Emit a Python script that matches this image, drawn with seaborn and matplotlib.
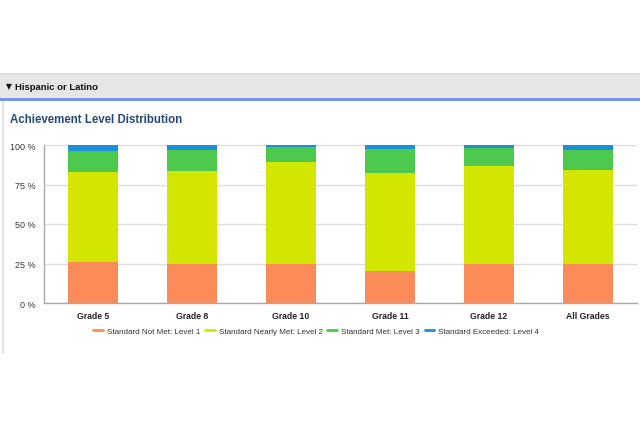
import numpy as np
import pandas as pd
import seaborn as sns
from matplotlib import pyplot as plt
from matplotlib.lines import Line2D
from matplotlib.patches import Rectangle

# Data (percent of students per achievement level)
grades = ["Grade 5", "Grade 8", "Grade 10", "Grade 11", "Grade 12", "All Grades"]
level1 = [26, 25, 25, 20, 25, 25]
level2 = [57, 58.5, 64, 62.5, 61.5, 59]
level3 = [13, 13.5, 10, 15, 11.5, 13]
level4 = [4, 3, 1, 2.5, 2, 3]
levels = ["Standard Not Met: Level 1", "Standard Nearly Met: Level 2",
          "Standard Met: Level 3", "Standard Exceeded: Level 4"]
colors = ["#fb8c5a", "#d3e600", "#4cc94c", "#1b8fd8"]

sns.set_theme(style="white")
plt.rcParams["font.family"] = ["Liberation Sans", "DejaVu Sans"]

fig = plt.figure(figsize=(6.4, 4.31), dpi=100)

# Page decoration: header bar, blue rule, left panel border
fig.add_artist(Rectangle((0, 1 - 99 / 431), 1, 25 / 431, transform=fig.transFigure,
                         facecolor="#e6e6e6", edgecolor="none"))
fig.add_artist(Rectangle((0, 1 - 75 / 431), 1, 1 / 431, transform=fig.transFigure,
                         facecolor="#d6d6d6", edgecolor="none"))
fig.add_artist(Rectangle((0, 1 - 102 / 431), 1, 3 / 431, transform=fig.transFigure,
                         facecolor="#7396e8", edgecolor="none"))
fig.add_artist(Rectangle((2 / 640, 1 - 355 / 431), 2 / 640, 253 / 431, transform=fig.transFigure,
                         facecolor="#e3e3e3", edgecolor="none"))
fig.text(6 / 640, 1 - 87 / 431, "\u25bc", fontsize=5.5, color="#111111", va="center",
         family=["DejaVu Sans"])
fig.text(15 / 640, 1 - 87 / 431, "Hispanic or Latino", fontsize=6.8, fontweight="bold",
         color="#111111", va="center")
fig.text(10 / 640, 1 - 120 / 431, "Achievement Level Distribution", fontsize=8.3,
         fontweight="bold", color="#274a78", va="center")

ax = fig.add_axes([44 / 640, 127 / 431, 593 / 640, 158 / 431])

df = pd.DataFrame({"grade": grades, "l1": level1, "l2": level2, "l3": level3, "l4": level4})
cum = df[["l1", "l2", "l3", "l4"]].cumsum(axis=1)
cum["grade"] = df["grade"]

# stacked bars: draw cumulative totals from the top level down
for col, color in zip(["l4", "l3", "l2", "l1"], colors[::-1]):
    sns.barplot(data=cum, x="grade", y=col, order=grades, color=color, width=0.505,
                saturation=1, linewidth=0, ax=ax, zorder=2)

ax.set_xlim(-0.5, 5.5)
ax.set_ylim(0, 100)
ax.set_yticks([0, 25, 50, 75, 100])
ax.set_yticklabels(["0 %", "25 %", "50 %", "75 %", "100 %"], fontsize=6.5, color="#333333")
ax.set_xticks(range(len(grades)))
ax.set_xticklabels(grades, fontsize=6.2, fontweight="bold", color="#222222")
ax.set_xticks(np.arange(-0.5, 6, 1), minor=True)
ax.tick_params(axis="x", which="major", length=0, pad=6)
ax.tick_params(axis="x", which="minor", length=3, color="#aaaaaa", direction="out")
ax.tick_params(axis="y", length=3, color="#aaaaaa", direction="out", pad=3)
ax.grid(axis="y", color="#dddddd", linewidth=1, zorder=0)
ax.set_axisbelow(True)
ax.set_xlabel("")
ax.set_ylabel("")
for side in ["top", "right"]:
    ax.spines[side].set_visible(False)
for side in ["left", "bottom"]:
    ax.spines[side].set_color("#aaaaaa")
    ax.spines[side].set_linewidth(1)

handles = [Line2D([], [], color=c, linewidth=2) for c in colors]
fig.legend(handles, levels, loc="center", bbox_to_anchor=(0.494, 1 - 332 / 431), ncol=4,
           frameon=False, fontsize=5.8, handlelength=1.2, handletextpad=0.5,
           columnspacing=0.6, labelcolor="#333333")

plt.savefig("out.png", dpi=100)
